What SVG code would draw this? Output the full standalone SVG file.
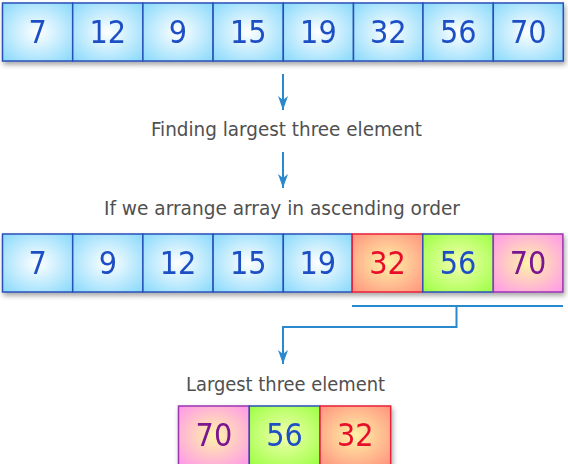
<svg xmlns="http://www.w3.org/2000/svg" width="568" height="464" viewBox="0 0 568 464">
<style>
.lbl{font-family:"DejaVu Sans Condensed","DejaVu Sans","Liberation Sans",sans-serif;font-stretch:condensed;font-size:20px;fill:#505050;}
.num{font-family:"DejaVu Sans Condensed","DejaVu Sans","Liberation Sans",sans-serif;font-stretch:condensed;font-size:32px;text-anchor:middle;}
.bc{fill:url(#gBlue);stroke:#2a50b8;stroke-width:1.5;}
.rc{fill:url(#gRed);stroke:#e8203a;stroke-width:1.5;}
.gc{fill:url(#gGreen);stroke:#2a50b8;stroke-width:1.5;}
.pc{fill:url(#gPink);stroke:#9a36b0;stroke-width:1.5;}
.tb{fill:#1f4fc4;}
.tr{fill:#e8102a;}
.tp{fill:#7a1290;}
.con{fill:none;stroke:#2a88cc;stroke-width:2;}
</style>
<defs>
<radialGradient id="gBlue" cx="0.5" cy="0.5" r="0.75">
<stop offset="0" stop-color="#ffffff"/>
<stop offset="1" stop-color="#7fd6fb"/>
</radialGradient>
<radialGradient id="gRed" cx="0.5" cy="0.5" r="0.75">
<stop offset="0" stop-color="#fff2a8"/>
<stop offset="1" stop-color="#ff8c7a"/>
</radialGradient>
<radialGradient id="gGreen" cx="0.5" cy="0.5" r="0.75">
<stop offset="0" stop-color="#f4ffb0"/>
<stop offset="1" stop-color="#96ff3c"/>
</radialGradient>
<radialGradient id="gPink" cx="0.5" cy="0.5" r="0.75">
<stop offset="0" stop-color="#fff4a8"/>
<stop offset="1" stop-color="#ff90ee"/>
</radialGradient>
<filter id="sh" x="-5%" y="-20%" width="115%" height="150%">
<feDropShadow dx="1.5" dy="3" stdDeviation="2.5" flood-color="#000" flood-opacity="0.35"/>
</filter>
<marker id="arr" viewBox="0 0 14 10" refX="14" refY="5" markerWidth="14" markerHeight="10" markerUnits="userSpaceOnUse" orient="auto">
<path d="M0,0 L14,5 L0,10 L4,5 Z" fill="#2a88cc"/>
</marker>
</defs>

<g id="connectors">
<line class="con" x1="283" y1="74" x2="283" y2="110" marker-end="url(#arr)"/>
<line class="con" x1="283" y1="152" x2="283" y2="188" marker-end="url(#arr)"/>
<polyline class="con" points="352,306 563,306"/>
<polyline class="con" points="456.5,306 456.5,327 283,327 283,364" marker-end="url(#arr)"/>
</g>

<g id="row1" filter="url(#sh)">
<g id="r1c0"><rect class="bc" x="2.5" y="3" width="70.2" height="58"/><text class="num tb" x="37.6" y="43">7</text></g>
<g id="r1c1"><rect class="bc" x="72.7" y="3" width="70.2" height="58"/><text class="num tb" x="107.8" y="43">12</text></g>
<g id="r1c2"><rect class="bc" x="142.9" y="3" width="70.2" height="58"/><text class="num tb" x="178" y="43">9</text></g>
<g id="r1c3"><rect class="bc" x="213.1" y="3" width="70.2" height="58"/><text class="num tb" x="248.2" y="43">15</text></g>
<g id="r1c4"><rect class="bc" x="283.3" y="3" width="70.2" height="58"/><text class="num tb" x="318.4" y="43">19</text></g>
<g id="r1c5"><rect class="bc" x="353.5" y="3" width="69.5" height="58"/><text class="num tb" x="388.3" y="43">32</text></g>
<g id="r1c6"><rect class="bc" x="423" y="3" width="70.3" height="58"/><text class="num tb" x="458.2" y="43">56</text></g>
<g id="r1c7"><rect class="bc" x="493.3" y="3" width="70" height="58"/><text class="num tb" x="528.3" y="43">70</text></g>
</g>

<g id="text1"><text class="lbl" x="151" y="136" textLength="271" lengthAdjust="spacingAndGlyphs">Finding largest three element</text></g>
<g id="text2"><text class="lbl" x="104" y="215" textLength="356" lengthAdjust="spacingAndGlyphs">If we arrange array in ascending order</text></g>

<g id="row2" filter="url(#sh)">
<g id="r2c0"><rect class="bc" x="2.5" y="234" width="70.2" height="58"/><text class="num tb" x="37.6" y="274">7</text></g>
<g id="r2c1"><rect class="bc" x="72.7" y="234" width="70.2" height="58"/><text class="num tb" x="107.8" y="274">9</text></g>
<g id="r2c2"><rect class="bc" x="142.9" y="234" width="70.2" height="58"/><text class="num tb" x="178" y="274">12</text></g>
<g id="r2c3"><rect class="bc" x="213.1" y="234" width="70.2" height="58"/><text class="num tb" x="248.2" y="274">15</text></g>
<g id="r2c4"><rect class="bc" x="283.3" y="234" width="68.9" height="58"/><text class="num tb" x="317.8" y="274">19</text></g>
<g id="r2c5"><rect class="rc" x="352.2" y="234" width="70.6" height="58"/><text class="num tr" x="387.5" y="274">32</text></g>
<g id="r2c6"><rect class="gc" x="422.8" y="234" width="70.5" height="58"/><text class="num tb" x="458" y="274">56</text></g>
<g id="r2c7"><rect class="pc" x="493.3" y="234" width="69.6" height="58"/><text class="num tp" x="528.1" y="274">70</text></g>
</g>

<g id="text3"><text class="lbl" x="186" y="391" textLength="199" lengthAdjust="spacingAndGlyphs">Largest three element</text></g>

<g id="row3" filter="url(#sh)">
<g id="r3c0"><rect class="pc" x="178.5" y="406" width="70.8" height="59"/><text class="num tp" x="213.9" y="446">70</text></g>
<g id="r3c1"><rect class="gc" x="249.3" y="406" width="70.7" height="59"/><text class="num tb" x="284.6" y="446">56</text></g>
<g id="r3c2"><rect class="rc" x="320" y="406" width="70.7" height="59"/><text class="num tr" x="355.3" y="446">32</text></g>
</g>
</svg>
